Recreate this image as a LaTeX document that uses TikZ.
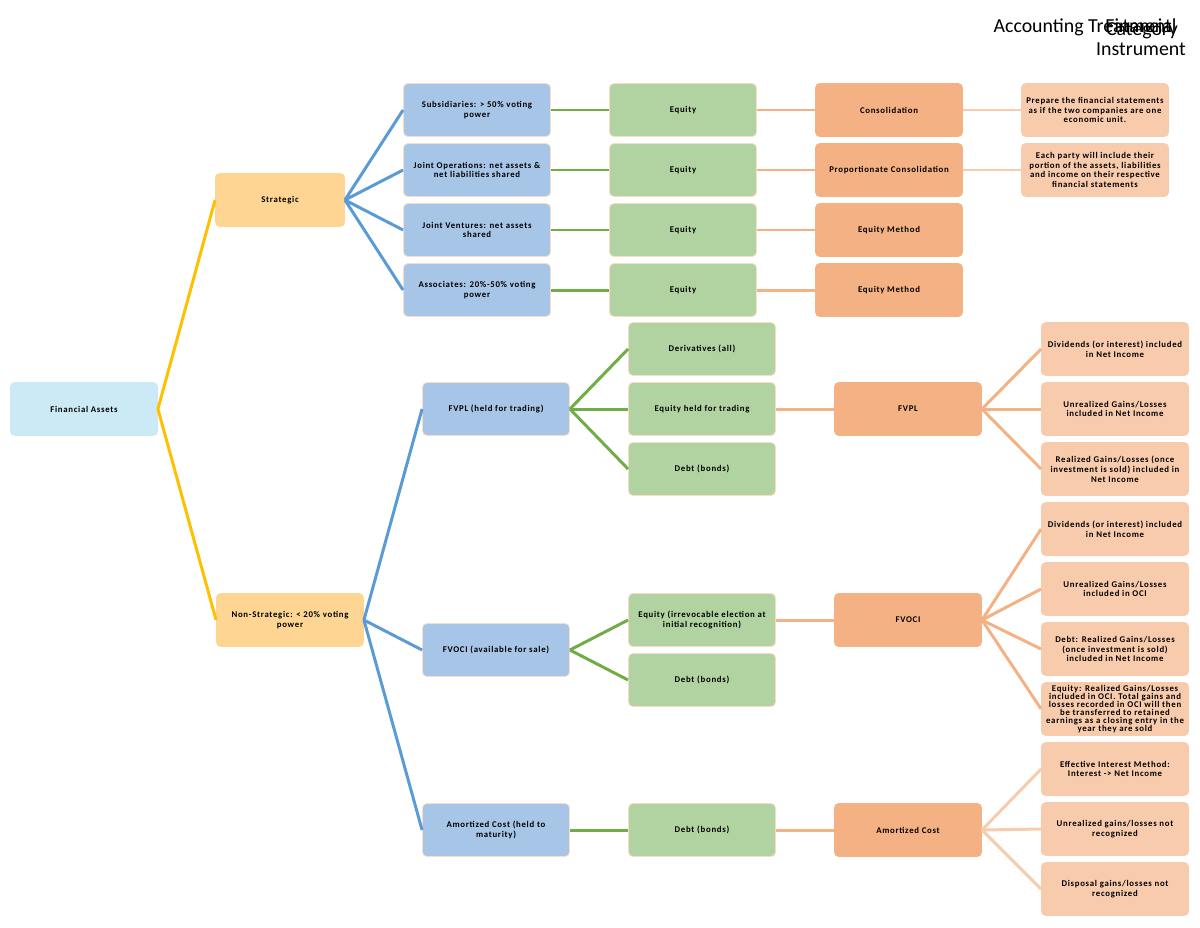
\documentclass[tikz,border=0pt]{standalone}
\usepackage{fontspec}
\setmainfont{Carlito}
\newfontfamily\boxfont{Carlito}[LetterSpace=8]
\definecolor{rootc}{HTML}{CCEAF5}
\definecolor{levelc}{HTML}{FED593}
\definecolor{bluec}{HTML}{A7C5E7}
\definecolor{greenc}{HTML}{B1D3A1}
\definecolor{orangec}{HTML}{F4B183}
\definecolor{peachc}{HTML}{F8CBAD}
\definecolor{rimc}{HTML}{FBDCC8}
\definecolor{yline}{HTML}{FFC000}
\definecolor{bline}{HTML}{5B9BD5}
\definecolor{gline}{HTML}{70AD47}
\begin{document}
\begin{tikzpicture}[x=0.02cm, y=-0.02cm,
    box/.style={rectangle, rounded corners=2.5pt, minimum width=2.94cm, minimum height=1.06cm,
      align=center, inner sep=1pt, draw=rimc, line width=0.5pt, font=\boxfont\fontsize{5}{5.6}\selectfont\bfseries},
    link/.style={line width=1.7pt}]
    \useasboundingbox (0,0) rectangle (1200,927);
    % header
    \node[anchor=base east, font=\fontsize{11.3}{13.2}\selectfont] (H1) at (1178,32) {Accounting Treatment};
    \node[align=center, font=\fontsize{11.3}{13.2}\selectfont] (H2) at (1141,37) {Financial\\Instrument};
    \node[anchor=base, font=\fontsize{11.3}{13.2}\selectfont] (H3) at (1142,35) {Category};
    % root and first level
    \node[box, fill=rootc, draw=rootc] (FA) at (84,409) {Financial Assets};
    \node[box, fill=levelc, draw=levelc, minimum width=2.58cm] (S) at (280,200) {Strategic};
    \node[box, fill=levelc, draw=levelc] (NS) at (290,620) {Non-Strategic: < 20\% voting\\power};
    % strategic branch
    \node[box, fill=bluec] (B1) at (477,110) {Subsidiaries: > 50\% voting\\power};
    \node[box, fill=bluec] (B2) at (477,170) {Joint Operations: net assets \&\\net liabilities shared};
    \node[box, fill=bluec] (B3) at (477,230) {Joint Ventures: net assets\\shared};
    \node[box, fill=bluec] (B4) at (477,290) {Associates: 20\%-50\% voting\\power};
    \node[box, fill=greenc] (G1) at (683,110) {Equity};
    \node[box, fill=greenc] (G2) at (683,170) {Equity};
    \node[box, fill=greenc] (G3) at (683,230) {Equity};
    \node[box, fill=greenc] (G4) at (683,290) {Equity};
    \node[box, fill=orangec, draw=orangec] (O1) at (889,110) {Consolidation};
    \node[box, fill=orangec, draw=orangec] (O2) at (889,170) {Proportionate Consolidation};
    \node[box, fill=orangec, draw=orangec] (O3) at (889,230) {Equity Method};
    \node[box, fill=orangec, draw=orangec] (O4) at (889,290) {Equity Method};
    \node[box, fill=peachc, draw=peachc] (P1) at (1095,110) {Prepare the financial statements\\as if the two companies are one\\economic unit.};
    \node[box, fill=peachc, draw=peachc] (P2) at (1095,170) {Each party will include their\\portion of the assets, liabilities\\and income on their respective\\financial statements};
    % non-strategic branch
    \node[box, fill=bluec] (B5) at (496,409) {FVPL (held for trading)};
    \node[box, fill=bluec] (B6) at (496,650) {FVOCI (available for sale)};
    \node[box, fill=bluec] (B7) at (496,830) {Amortized Cost (held to\\maturity)};
    \node[box, fill=greenc] (G5) at (702,349) {Derivatives (all)};
    \node[box, fill=greenc] (G6) at (702,409) {Equity held for trading};
    \node[box, fill=greenc] (G7) at (702,469) {Debt (bonds)};
    \node[box, fill=greenc] (G8) at (702,620) {Equity (irrevocable election at\\initial recognition)};
    \node[box, fill=greenc] (G9) at (702,680) {Debt (bonds)};
    \node[box, fill=greenc] (G10) at (702,830) {Debt (bonds)};
    \node[box, fill=orangec, draw=orangec] (O5) at (908,409) {FVPL};
    \node[box, fill=orangec, draw=orangec] (O6) at (908,620) {FVOCI};
    \node[box, fill=orangec, draw=orangec] (O7) at (908,830) {Amortized Cost};
    \node[box, fill=peachc, draw=peachc] (P3) at (1115,349) {Dividends (or interest) included\\in Net Income};
    \node[box, fill=peachc, draw=peachc] (P4) at (1115,409) {Unrealized Gains/Losses\\included in Net Income};
    \node[box, fill=peachc, draw=peachc] (P5) at (1115,469) {Realized Gains/Losses (once\\investment is sold) included in\\Net Income};
    \node[box, fill=peachc, draw=peachc] (P6) at (1115,529) {Dividends (or interest) included\\in Net Income};
    \node[box, fill=peachc, draw=peachc] (P7) at (1115,589) {Unrealized Gains/Losses\\included in OCI};
    \node[box, fill=peachc, draw=peachc] (P8) at (1115,649) {Debt: Realized Gains/Losses\\(once investment is sold)\\included in Net Income};
    \node[box, fill=peachc, draw=peachc, font=\boxfont\fontsize{5}{4.6}\selectfont\bfseries, inner sep=0pt] (P9) at (1115,709) {Equity: Realized Gains/Losses\\included in OCI. Total gains and\\losses recorded in OCI will then\\be transferred to retained\\earnings as a closing entry in the\\year they are sold};
    \node[box, fill=peachc, draw=peachc] (P10) at (1115,769) {Effective Interest Method:\\Interest -> Net Income};
    \node[box, fill=peachc, draw=peachc] (P11) at (1115,829) {Unrealized gains/losses not\\recognized};
    \node[box, fill=peachc, draw=peachc] (P12) at (1115,889) {Disposal gains/losses not\\recognized};
    % connectors
    \draw[yline, link] (FA.east) -- (S.west);
    \draw[yline, link] (FA.east) -- (NS.west);
    \draw[bline, link] (S.east) -- (B1.west);
    \draw[bline, link] (S.east) -- (B2.west);
    \draw[bline, link] (S.east) -- (B3.west);
    \draw[bline, link] (S.east) -- (B4.west);
    \draw[bline, link] (NS.east) -- (B5.west);
    \draw[bline, link] (NS.east) -- (B6.west);
    \draw[bline, link] (NS.east) -- (B7.west);
    \draw[gline, link] (B1) -- (G1);
    \draw[gline, link] (B2) -- (G2);
    \draw[gline, link] (B3) -- (G3);
    \draw[gline, link] (B4) -- (G4);
    \draw[gline, link] (B5.east) -- (G5.west);
    \draw[gline, link] (B5.east) -- (G6.west);
    \draw[gline, link] (B5.east) -- (G7.west);
    \draw[gline, link] (B6.east) -- (G8.west);
    \draw[gline, link] (B6.east) -- (G9.west);
    \draw[gline, link] (B7) -- (G10);
    \draw[orangec, link] (G1) -- (O1);
    \draw[orangec, link] (G2) -- (O2);
    \draw[orangec, link] (G3) -- (O3);
    \draw[orangec, link] (G4) -- (O4);
    \draw[orangec, link] (G6) -- (O5);
    \draw[orangec, link] (G8) -- (O6);
    \draw[orangec, link] (G10) -- (O7);
    \draw[peachc, link] (O1) -- (P1);
    \draw[peachc, link] (O2) -- (P2);
    \draw[orangec, link] (O5.east) -- (P3.west);
    \draw[orangec, link] (O5.east) -- (P4.west);
    \draw[orangec, link] (O5.east) -- (P5.west);
    \draw[orangec, link] (O6.east) -- (P6.west);
    \draw[orangec, link] (O6.east) -- (P7.west);
    \draw[orangec, link] (O6.east) -- (P8.west);
    \draw[orangec, link] (O6.east) -- (P9.west);
    \draw[peachc, link] (O7.east) -- (P10.west);
    \draw[peachc, link] (O7.east) -- (P11.west);
    \draw[peachc, link] (O7.east) -- (P12.west);
\end{tikzpicture}
\end{document}
